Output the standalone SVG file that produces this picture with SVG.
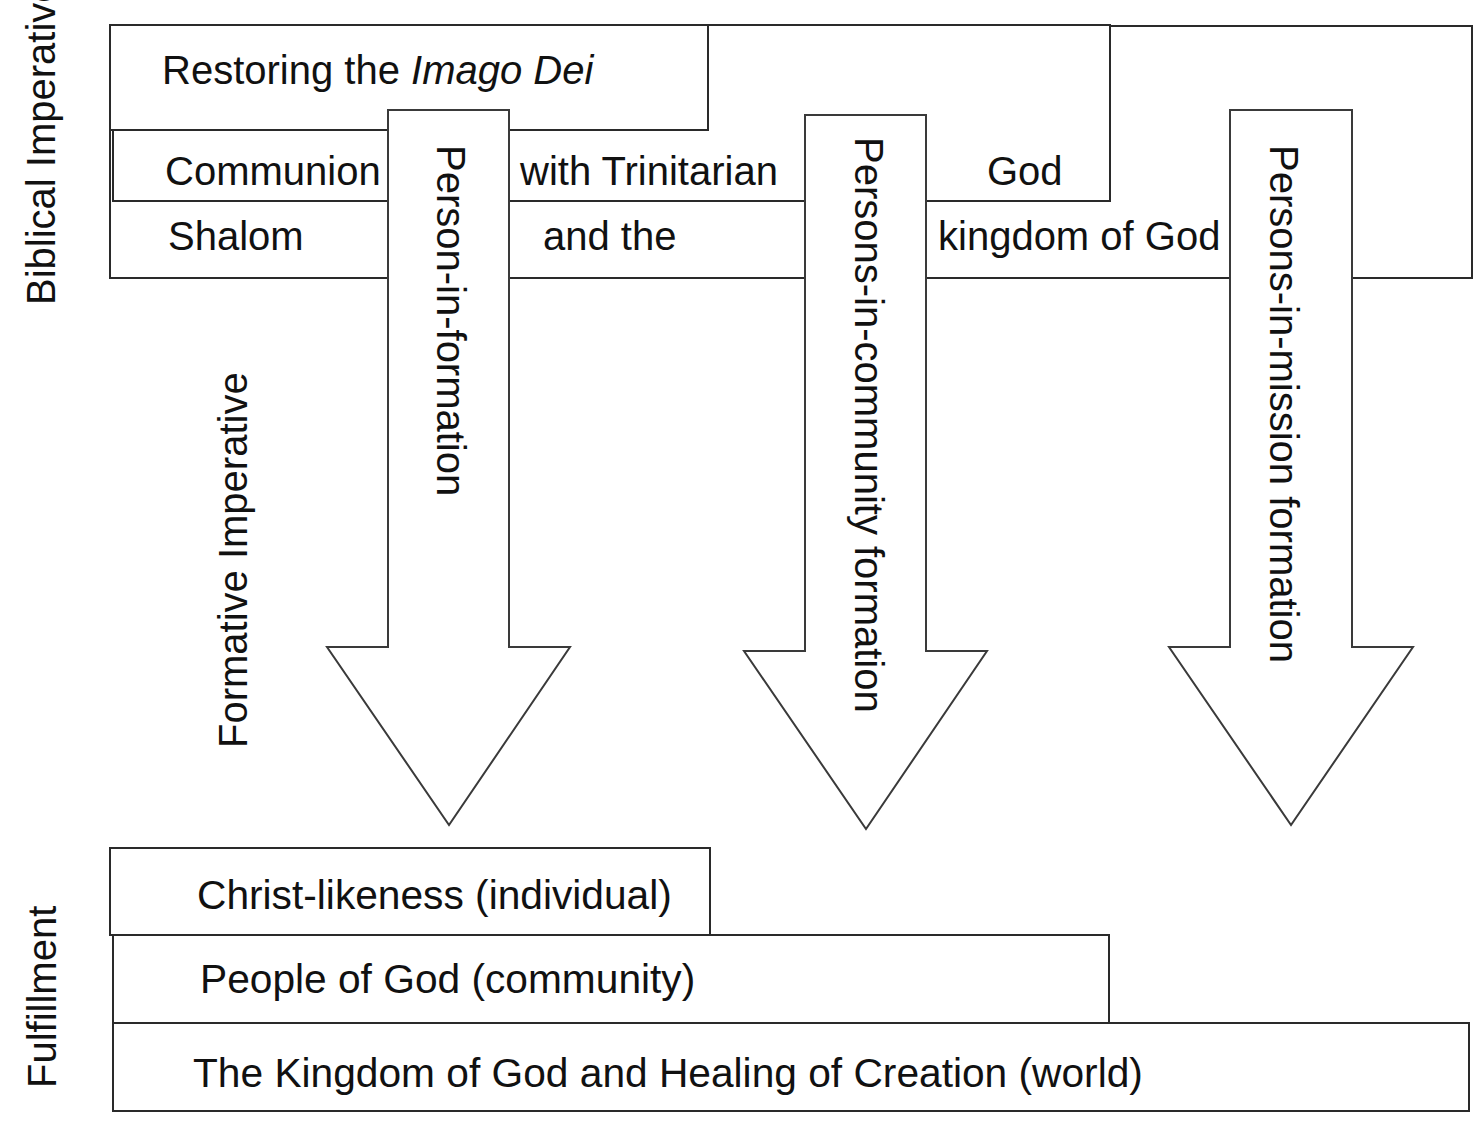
<svg xmlns="http://www.w3.org/2000/svg" width="1484" height="1136" viewBox="0 0 1484 1136">
<style>
.box{fill:#fff;stroke:#2a2a2a;stroke-width:2}
.arrow{fill:#fff;stroke:#3a3a3a;stroke-width:2;stroke-linejoin:miter}
text{font-family:"Liberation Sans",Arial,sans-serif;font-size:40px;fill:#111}
.ful{font-size:40.7px}
</style>
<rect width="1484" height="1136" fill="#fff"/>
<g id="side-labels">
<text id="lbl-biblical" transform="translate(55,305) rotate(-90)">Biblical Imperative</text>
<text id="lbl-formative" transform="translate(247,748) rotate(-90)">Formative Imperative</text>
<text id="lbl-fulfillment" transform="translate(56,1088) rotate(-90)">Fulfillment</text>
</g>
<g id="imperative-shalom">
<rect class="box" x="110" y="26" width="1362" height="252"/>
<text x="168" y="250">Shalom</text>
<text x="543" y="250">and the</text>
<text x="938" y="250">kingdom of God</text>
</g>
<g id="imperative-communion">
<rect class="box" x="113" y="25" width="997" height="176"/>
<text x="165" y="185">Communion</text>
<text x="520" y="185">with Trinitarian</text>
<text x="987" y="185">God</text>
</g>
<g id="imperative-imago">
<rect class="box" x="110" y="25" width="598" height="105"/>
<text x="162" y="84">Restoring the <tspan font-style="italic">Imago Dei</tspan></text>
</g>
<g id="connectors">
<g id="arrow-person">
<polygon class="arrow" points="388,110 509,110 509,647 570,647 449,825 327,647 388,647"/>
<text transform="translate(437,145) rotate(90)">Person-in-formation</text>
</g>
<g id="arrow-community">
<polygon class="arrow" points="805,115 926,115 926,651 987,651 866,829 744,651 805,651"/>
<text transform="translate(855,137) rotate(90)">Persons-in-community formation</text>
</g>
<g id="arrow-mission">
<polygon class="arrow" points="1230,110 1352,110 1352,647 1413,647 1291,825 1169,647 1230,647"/>
<text transform="translate(1270,145) rotate(90)">Persons-in-mission formation</text>
</g>
</g>
<g id="fulfillment-world">
<rect class="box" x="113" y="1023" width="1356" height="88"/>
<text class="ful" x="193" y="1087">The Kingdom of God and Healing of Creation (world)</text>
</g>
<g id="fulfillment-community">
<rect class="box" x="113" y="935" width="996" height="88"/>
<text class="ful" x="200" y="993">People of God (community)</text>
</g>
<g id="fulfillment-individual">
<rect class="box" x="110" y="848" width="600" height="87"/>
<text class="ful" x="197" y="909">Christ-likeness (individual)</text>
</g>
</svg>
